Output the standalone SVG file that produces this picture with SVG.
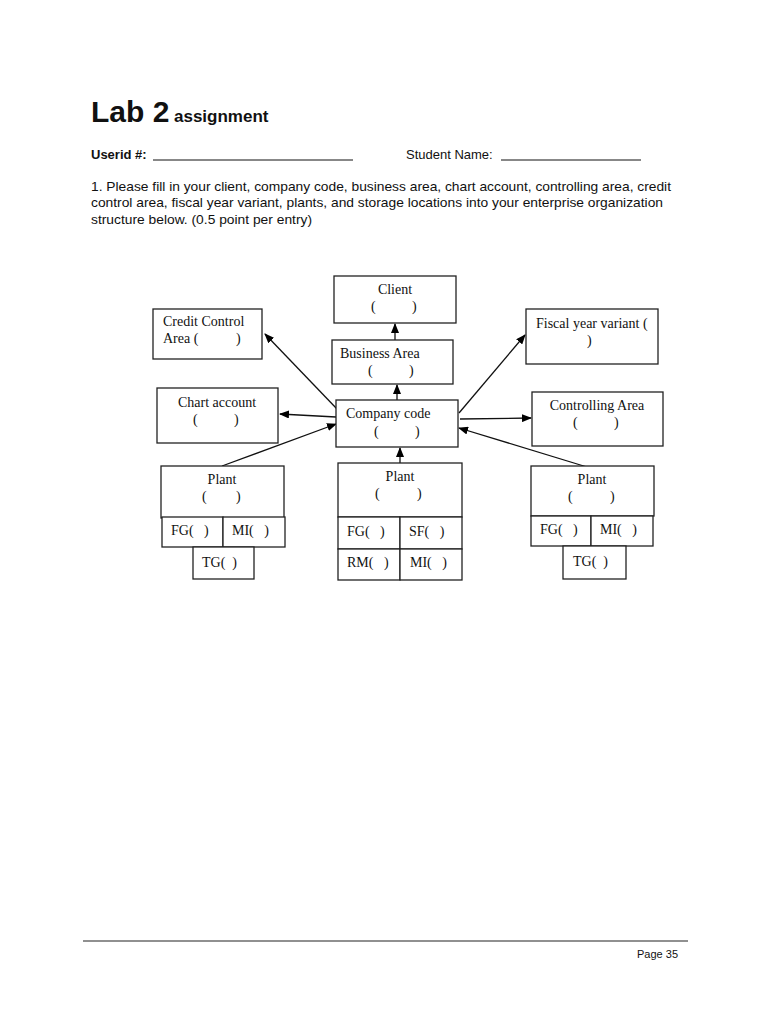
<svg xmlns="http://www.w3.org/2000/svg" width="768" height="1024" viewBox="0 0 768 1024">
<defs>
<marker id="ah" markerWidth="10" markerHeight="8" refX="9" refY="4" orient="auto" markerUnits="userSpaceOnUse">
<path d="M0,0 L10,4 L0,8 Z" fill="#000"/>
</marker>
<style>
.box{fill:#fff;stroke:#222;stroke-width:1.3}
.t{font-family:"Liberation Serif","Times New Roman",serif;font-size:14px;fill:#111;white-space:pre}
.m{text-anchor:middle}
.s{font-family:"Liberation Sans",Arial,sans-serif;fill:#111}
.c{stroke:#111;stroke-width:1.3;fill:none;marker-end:url(#ah)}
</style>
</defs>
<rect width="768" height="1024" fill="#fff"/>

<g id="header">
<text class="s" x="91" y="122" font-size="30" font-weight="bold">Lab 2</text>
<text class="s" x="174" y="122" font-size="17" font-weight="bold">assignment</text>
<text class="s" x="91" y="159" font-size="13" font-weight="bold">Userid #:</text>
<line x1="153" y1="160" x2="353" y2="160" stroke="#111" stroke-width="1"/>
<text class="s" x="406" y="159" font-size="13">Student Name:</text>
<line x1="501" y1="160" x2="641" y2="160" stroke="#111" stroke-width="1"/>
<text class="s" x="91" y="191" font-size="13" textLength="580" lengthAdjust="spacingAndGlyphs">1. Please fill in your client, company code, business area, chart account, controlling area, credit</text>
<text class="s" x="91" y="207" font-size="13" textLength="572" lengthAdjust="spacingAndGlyphs">control area, fiscal year variant, plants, and storage locations into your enterprise organization</text>
<text class="s" x="91" y="224" font-size="13" textLength="221" lengthAdjust="spacingAndGlyphs">structure below. (0.5 point per entry)</text>
</g>

<g id="connectors">
<line class="c" x1="397" y1="400" x2="397" y2="385"/>
<line class="c" x1="395" y1="340" x2="395" y2="324"/>
<line class="c" x1="337" y1="409" x2="265" y2="334"/>
<line class="c" x1="336" y1="417" x2="280" y2="414"/>
<line class="c" x1="222" y1="466" x2="336" y2="424"/>
<line class="c" x1="459" y1="413" x2="525" y2="335"/>
<line class="c" x1="460" y1="419" x2="531" y2="418"/>
<line class="c" x1="587" y1="467" x2="459" y2="428"/>
<line class="c" x1="400" y1="463" x2="400" y2="448"/>
</g>

<g id="client">
<rect class="box" x="334" y="276" width="122" height="47"/>
<text class="t m" x="395" y="294">Client</text>
<text class="t" x="371" y="311">(</text><text class="t" x="412" y="311">)</text>
</g>

<g id="credit-control">
<rect class="box" x="153" y="309" width="109" height="50"/>
<text class="t" x="163" y="326">Credit Control</text>
<text class="t" x="163" y="343">Area (</text><text class="t" x="236" y="343">)</text>
</g>

<g id="business-area">
<rect class="box" x="332" y="340" width="121" height="44"/>
<text class="t" x="340" y="358">Business Area</text>
<text class="t" x="368" y="375">(</text><text class="t" x="409" y="375">)</text>
</g>

<g id="chart-account">
<rect class="box" x="157" y="388" width="121" height="55"/>
<text class="t m" x="217" y="407">Chart account</text>
<text class="t" x="193" y="424">(</text><text class="t" x="234" y="424">)</text>
</g>

<g id="company-code">
<rect class="box" x="336" y="400" width="122" height="47"/>
<text class="t" x="346" y="418">Company code</text>
<text class="t" x="374" y="436">(</text><text class="t" x="415" y="436">)</text>
</g>

<g id="fiscal-year">
<rect class="box" x="526" y="309" width="132" height="55"/>
<text class="t" x="536" y="328">Fiscal year variant (</text>
<text class="t" x="587" y="345">)</text>
</g>

<g id="controlling-area">
<rect class="box" x="532" y="392" width="131" height="54"/>
<text class="t m" x="597" y="410">Controlling Area</text>
<text class="t" x="573" y="427">(</text><text class="t" x="614" y="427">)</text>
</g>

<g id="plant-left">
<rect class="box" x="161" y="466" width="123" height="52"/>
<text class="t m" x="222" y="484">Plant</text>
<text class="t" x="202" y="501">(</text><text class="t" x="236" y="501">)</text>
<rect class="box" x="162" y="517" width="61" height="30"/>
<rect class="box" x="223" y="517" width="62" height="30"/>
<rect class="box" x="193" y="547" width="61" height="32"/>
<text class="t" x="171" y="535">FG(   )</text>
<text class="t" x="232" y="535">MI(   )</text>
<text class="t" x="202" y="567">TG(  )</text>
</g>

<g id="plant-middle">
<rect class="box" x="338" y="463" width="124" height="54"/>
<text class="t m" x="400" y="481">Plant</text>
<text class="t" x="375" y="498">(</text><text class="t" x="417" y="498">)</text>
<rect class="box" x="338" y="517" width="62" height="32"/>
<rect class="box" x="400" y="517" width="62" height="32"/>
<rect class="box" x="338" y="549" width="62" height="31"/>
<rect class="box" x="400" y="549" width="62" height="31"/>
<text class="t" x="347" y="536">FG(   )</text>
<text class="t" x="409" y="536">SF(   )</text>
<text class="t" x="347" y="567">RM(   )</text>
<text class="t" x="410" y="567">MI(   )</text>
</g>

<g id="plant-right">
<rect class="box" x="531" y="466" width="123" height="50"/>
<text class="t m" x="592" y="484">Plant</text>
<text class="t" x="568" y="501">(</text><text class="t" x="610" y="501">)</text>
<rect class="box" x="531" y="516" width="60" height="30"/>
<rect class="box" x="591" y="516" width="62" height="30"/>
<rect class="box" x="563" y="546" width="63" height="33"/>
<text class="t" x="540" y="534">FG(   )</text>
<text class="t" x="600" y="534">MI(   )</text>
<text class="t" x="573" y="566">TG(  )</text>
</g>

<g id="footer">
<line x1="83" y1="941" x2="688" y2="941" stroke="#222" stroke-width="1.2"/>
<text class="s" x="678" y="958" font-size="11" text-anchor="end">Page 35</text>
</g>
</svg>
